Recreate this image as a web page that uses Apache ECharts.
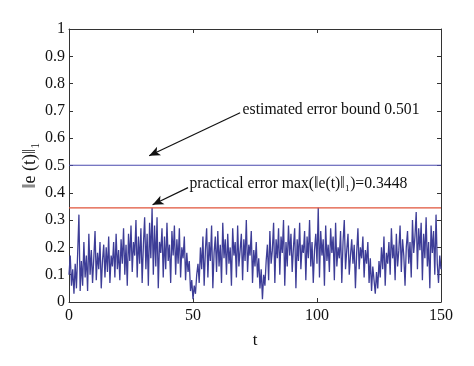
<!DOCTYPE html>
<html><head><meta charset="utf-8">
<script src="https://cdn.jsdelivr.net/npm/echarts@6/dist/echarts.min.js"></script>
<style>html,body{margin:0;padding:0;background:#fff}#c{width:474px;height:366px}</style>
</head><body><div id="c"></div>
<script>
const xTicks = [0, 50, 100, 150];
const yTicks = [0, 0.1, 0.2, 0.3, 0.4, 0.5, 0.6, 0.7, 0.8, 0.9, 1];
const step = 0.5;
const errorValues = [
0.10,0.17,0.06,0.12,0.03,0.14,0.05,0.18,0.32,0.04,
0.15,0.06,0.22,0.09,0.17,0.04,0.25,0.10,0.19,0.07,
0.16,0.26,0.08,0.18,0.12,0.22,0.05,0.15,0.21,0.09,
0.20,0.11,0.24,0.07,0.17,0.13,0.22,0.09,0.25,0.12,
0.19,0.08,0.23,0.14,0.27,0.10,0.21,0.06,0.25,0.15,
0.28,0.11,0.22,0.17,0.30,0.09,0.24,0.14,0.27,0.07,
0.21,0.31,0.12,0.25,0.06,0.29,0.16,0.3448,0.10,0.28,
0.13,0.31,0.05,0.22,0.18,0.27,0.09,0.24,0.12,0.29,
0.15,0.21,0.07,0.26,0.17,0.28,0.10,0.23,0.14,0.27,
0.09,0.20,0.16,0.24,0.08,0.18,0.11,0.15,0.04,0.08,
0.01,0.06,0.03,0.10,0.14,0.07,0.20,0.12,0.24,0.06,
0.19,0.27,0.09,0.22,0.15,0.28,0.05,0.18,0.24,0.11,
0.26,0.13,0.21,0.07,0.29,0.16,0.23,0.10,0.25,0.14,
0.20,0.06,0.27,0.17,0.22,0.09,0.28,0.13,0.19,0.25,
0.08,0.23,0.15,0.30,0.11,0.21,0.17,0.26,0.07,0.19,
0.13,0.22,0.09,0.16,0.05,0.12,0.01,0.10,0.06,0.15,
0.21,0.08,0.26,0.14,0.19,0.29,0.07,0.23,0.16,0.27,
0.10,0.24,0.18,0.30,0.06,0.22,0.13,0.28,0.17,0.25,
0.11,0.20,0.27,0.05,0.23,0.15,0.29,0.12,0.21,0.18,
0.26,0.08,0.24,0.16,0.30,0.13,0.22,0.07,0.19,0.25,
0.14,0.3448,0.09,0.26,0.17,0.23,0.06,0.28,0.15,0.21,
0.11,0.27,0.18,0.24,0.08,0.29,0.13,0.20,0.16,0.26,
0.07,0.22,0.30,0.12,0.19,0.25,0.10,0.17,0.23,0.14,
0.21,0.05,0.18,0.27,0.12,0.20,0.16,0.24,0.09,0.19,
0.14,0.22,0.07,0.16,0.04,0.13,0.08,0.03,0.11,0.05,
0.15,0.09,0.20,0.12,0.24,0.06,0.18,0.14,0.22,0.10,
0.27,0.16,0.21,0.08,0.25,0.13,0.19,0.28,0.11,0.23,
0.17,0.06,0.20,0.26,0.14,0.22,0.09,0.30,0.18,0.24,
0.33,0.12,0.27,0.19,0.29,0.08,0.25,0.16,0.31,0.13,
0.22,0.05,0.28,0.18,0.26,0.10,0.32,0.14,0.07,0.17,
0.12
];
const boundValue = 0.501;
const practicalMax = 0.3448;
const boundText = 'estimated error bound 0.501';
const practicalText = 'practical error max(‖e(t)‖₁)=0.3448';
const yName = '‖e (t)‖₁';
const xName = 't';

const FONT = '"Liberation Serif", "DejaVu Serif", serif';
const AX = '#333';
const chart = echarts.init(document.getElementById('c'));
const seriesData = errorValues.map((v, i) => [i * step, v]);
const xMin = xTicks[0], xMax = xTicks[xTicks.length - 1];

const axisCommon = {
  axisLine: { show: true, onZero: false, lineStyle: { color: AX, width: 1 } },
  axisTick: { show: true, inside: true, length: 4, lineStyle: { color: AX } },
  splitLine: { show: false }
};
chart.setOption({
  animation: false,
  grid: { left: 69, right: 33, top: 29, bottom: 64 },
  xAxis: [
    Object.assign({ type: 'value', min: xMin, max: xMax, interval: 50,
      name: xName, nameLocation: 'middle', nameGap: 30,
      nameTextStyle: { fontFamily: FONT, fontSize: 17, color: '#111' },
      axisLabel: { fontFamily: FONT, fontSize: 16, color: '#111', margin: 6 } }, axisCommon),
    Object.assign({ type: 'value', position: 'top', min: xMin, max: xMax, interval: 50,
      axisLabel: { show: false } }, axisCommon)
  ],
  yAxis: [
    Object.assign({ type: 'value', min: 0, max: 1, interval: 0.1,
      name: yName, nameLocation: 'middle', nameGap: 30, nameMoveOverlap: false,
      nameTextStyle: { fontFamily: FONT, fontSize: 18, color: '#111' },
      axisLabel: { fontFamily: FONT, fontSize: 16, color: '#111', margin: 4 } }, axisCommon),
    Object.assign({ type: 'value', position: 'right', min: 0, max: 1, interval: 0.1,
      axisLabel: { show: false } }, axisCommon)
  ],
  series: [
    { type: 'line', data: seriesData, showSymbol: false, symbol: 'none',
      lineStyle: { color: '#3d3d97', width: 1.3 }, z: 2 },
    { type: 'line', data: [[xMin, boundValue], [xMax, boundValue]], symbol: 'none',
      lineStyle: { color: '#4a4aae', width: 1.2 }, z: 3 },
    { type: 'line', data: [[xMin, practicalMax], [xMax, practicalMax]], symbol: 'none',
      lineStyle: { color: '#e0533a', width: 1.3 }, z: 3,
      markLine: { silent: true, symbol: ['none', 'arrow'], symbolSize: [7, 11],
        lineStyle: { color: '#111', width: 1.2, type: 'solid' }, label: { show: false },
        data: [
          [{ coord: [69, 0.693] }, { coord: [32.3, 0.536] }],
          [{ coord: [48, 0.419] }, { coord: [33.7, 0.356] }]
        ] } }
  ]
});
const p1 = chart.convertToPixel({ gridIndex: 0 }, [70, 0.693]);
const p2 = chart.convertToPixel({ gridIndex: 0 }, [48.6, 0.42]);
chart.setOption({
  graphic: [
    { type: 'text', left: p1[0], top: p1[1] - 11,
      style: { text: boundText, font: '15.7px ' + FONT, fill: '#111' } },
    { type: 'text', left: p2[0], top: p2[1] - 11,
      style: { text: practicalText, font: '15.7px ' + FONT, fill: '#111' } }
  ]
});
</script></body></html>
